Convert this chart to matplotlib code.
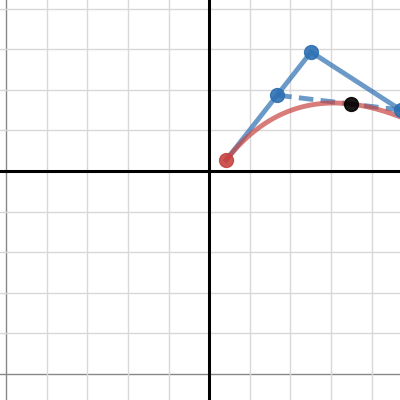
import numpy as np
import matplotlib.pyplot as plt

# control points of the quadratic bezier
ctrl_x = [0.42, 2.51, 6.19]
ctrl_y = [0.27, 2.93, 0.55]
t_mark = 0.6

p0 = np.array([ctrl_x[0], ctrl_y[0]])
p1 = np.array([ctrl_x[1], ctrl_y[1]])
p2 = np.array([ctrl_x[2], ctrl_y[2]])

a = p0 + t_mark * (p1 - p0)
b = p1 + t_mark * (p2 - p1)
c = a + t_mark * (b - a)

ts = np.linspace(0, 1, 300)[:, None]
curve = (1 - ts)**2 * p0 + 2 * (1 - ts) * ts * p1 + ts**2 * p2

fig = plt.figure(figsize=(4, 4), dpi=100)
ax = fig.add_axes([0, 0, 1, 1])
ax.set_xlim(-5.15, 4.7)
ax.set_ylim(-5.64, 4.21)

for v in range(-6, 6):
    col = '#888888' if v % 5 == 0 else '#d8d8d8'
    ax.axvline(v, color=col, lw=1, zorder=0)
    ax.axhline(v, color=col, lw=1, zorder=0)
ax.axhline(0, color='black', lw=2.2, zorder=1)
ax.axvline(0, color='black', lw=2.2, zorder=1)

blue = '#2d70b3'
red = '#c74440'
ax.plot([p0[0], p1[0], p2[0]], [p0[1], p1[1], p2[1]], color=blue, lw=3.5, alpha=0.7, zorder=2)
ax.plot([a[0], b[0]], [a[1], b[1]], color=blue, lw=3.5, alpha=0.7, ls=(0, (3, 1.5)), zorder=2)
ax.plot(curve[:, 0], curve[:, 1], color=red, lw=3.5, alpha=0.7, zorder=3)
ax.plot([a[0], p1[0], b[0]], [a[1], p1[1], b[1]], 'o', color=blue, ms=10, alpha=0.9, zorder=4)
ax.plot(p0[0], p0[1], 'o', color=red, ms=10, alpha=0.9, zorder=4)
ax.plot(c[0], c[1], 'o', color='black', ms=10, alpha=0.9, zorder=5)

ax.set_xticks([])
ax.set_yticks([])
for s in ax.spines.values():
    s.set_visible(False)

fig.savefig('out.png')
